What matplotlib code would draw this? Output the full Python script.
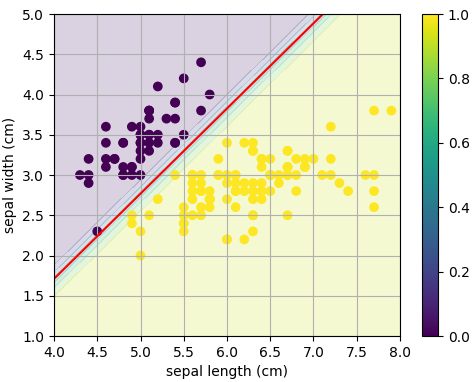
import numpy as np
import matplotlib
matplotlib.use("Agg")
import matplotlib.pyplot as plt

# iris: sepal length / sepal width, setosa (0) vs the rest (1)
sepal_length = [
    5.1, 4.9, 4.7, 4.6, 5.0, 5.4, 4.6, 5.0, 4.4, 4.9, 5.4, 4.8, 4.8, 4.3, 5.8, 5.7, 5.4, 5.1, 5.7, 5.1,
    5.4, 5.1, 4.6, 5.1, 4.8, 5.0, 5.0, 5.2, 5.2, 4.7, 4.8, 5.4, 5.2, 5.5, 4.9, 5.0, 5.5, 4.9, 4.4, 5.1,
    5.0, 4.5, 4.4, 5.0, 5.1, 4.8, 5.1, 4.6, 5.3, 5.0,
    7.0, 6.4, 6.9, 5.5, 6.5, 5.7, 6.3, 4.9, 6.6, 5.2, 5.0, 5.9, 6.0, 6.1, 5.6, 6.7, 5.6, 5.8, 6.2, 5.6,
    5.9, 6.1, 6.3, 6.1, 6.4, 6.6, 6.8, 6.7, 6.0, 5.7, 5.5, 5.5, 5.8, 6.0, 5.4, 6.0, 6.7, 6.3, 5.6, 5.5,
    5.5, 6.1, 5.8, 5.0, 5.6, 5.7, 5.7, 6.2, 5.1, 5.7,
    6.3, 5.8, 7.1, 6.3, 6.5, 7.6, 4.9, 7.3, 6.7, 7.2, 6.5, 6.4, 6.8, 5.7, 5.8, 6.4, 6.5, 7.7, 7.7, 6.0,
    6.9, 5.6, 7.7, 6.3, 6.7, 7.2, 6.2, 6.1, 6.4, 7.2, 7.4, 7.9, 6.4, 6.3, 6.1, 7.7, 6.3, 6.4, 6.0, 6.9,
    6.7, 6.9, 5.8, 6.8, 6.7, 6.7, 6.3, 6.5, 6.2, 5.9,
]
sepal_width = [
    3.5, 3.0, 3.2, 3.1, 3.6, 3.9, 3.4, 3.4, 2.9, 3.1, 3.7, 3.4, 3.0, 3.0, 4.0, 4.4, 3.9, 3.5, 3.8, 3.8,
    3.4, 3.7, 3.6, 3.3, 3.4, 3.0, 3.4, 3.5, 3.4, 3.2, 3.1, 3.4, 4.1, 4.2, 3.1, 3.2, 3.5, 3.6, 3.0, 3.4,
    3.5, 2.3, 3.2, 3.5, 3.8, 3.0, 3.8, 3.2, 3.7, 3.3,
    3.2, 3.2, 3.1, 2.3, 2.8, 2.8, 3.3, 2.4, 2.9, 2.7, 2.0, 3.0, 2.2, 2.9, 2.9, 3.1, 3.0, 2.7, 2.2, 2.5,
    3.2, 2.8, 2.5, 2.8, 2.9, 3.0, 2.8, 3.0, 2.9, 2.6, 2.4, 2.4, 2.7, 2.7, 3.0, 3.4, 3.1, 2.3, 3.0, 2.5,
    2.6, 3.0, 2.6, 2.3, 2.7, 3.0, 2.9, 2.9, 2.5, 2.8,
    3.3, 2.7, 3.0, 2.9, 3.0, 3.0, 2.5, 2.9, 2.5, 3.6, 3.2, 2.7, 3.0, 2.5, 2.8, 3.2, 3.0, 3.8, 2.6, 2.2,
    3.2, 2.8, 2.8, 2.7, 3.3, 3.2, 2.8, 3.0, 2.8, 3.0, 2.8, 3.8, 2.8, 2.8, 2.6, 3.0, 3.4, 3.1, 3.0, 3.1,
    3.1, 3.1, 2.7, 3.2, 3.3, 3.0, 2.5, 3.0, 3.4, 3.0,
]
label = [0] * 50 + [1] * 100

# decision boundary  y = b0 + b1 * x
b0 = 1.71 - 1.058 * 4.0
b1 = 1.058
steep = 10.0

x = np.array(sepal_length)
y = np.array(sepal_width)

xx, yy = np.meshgrid(np.linspace(4, 8, 400), np.linspace(1, 5, 400))
zz = 1.0 / (1.0 + np.exp(-steep * ((b0 + b1 * xx) - yy)))

fig = plt.figure(figsize=(4.74, 3.82), dpi=100)
ax = fig.add_axes([54 / 474, 46 / 382, 346 / 474, 322 / 382])
cax = fig.add_axes([422 / 474, 46 / 382, 16 / 474, 322 / 382])

ax.contourf(xx, yy, zz, cmap="viridis", alpha=0.2)
sc = ax.scatter(x, y, c=label, cmap="viridis")
xs = np.array([4.0, 8.0])
ax.plot(xs, b0 + b1 * xs, color="red")

ax.set_xlim(4, 8)
ax.set_ylim(1, 5)
ax.set_xlabel("sepal length (cm)")
ax.set_ylabel("sepal width (cm)")
ax.grid(True)

fig.colorbar(sc, cax=cax)

fig.savefig("out.png", dpi=100)
